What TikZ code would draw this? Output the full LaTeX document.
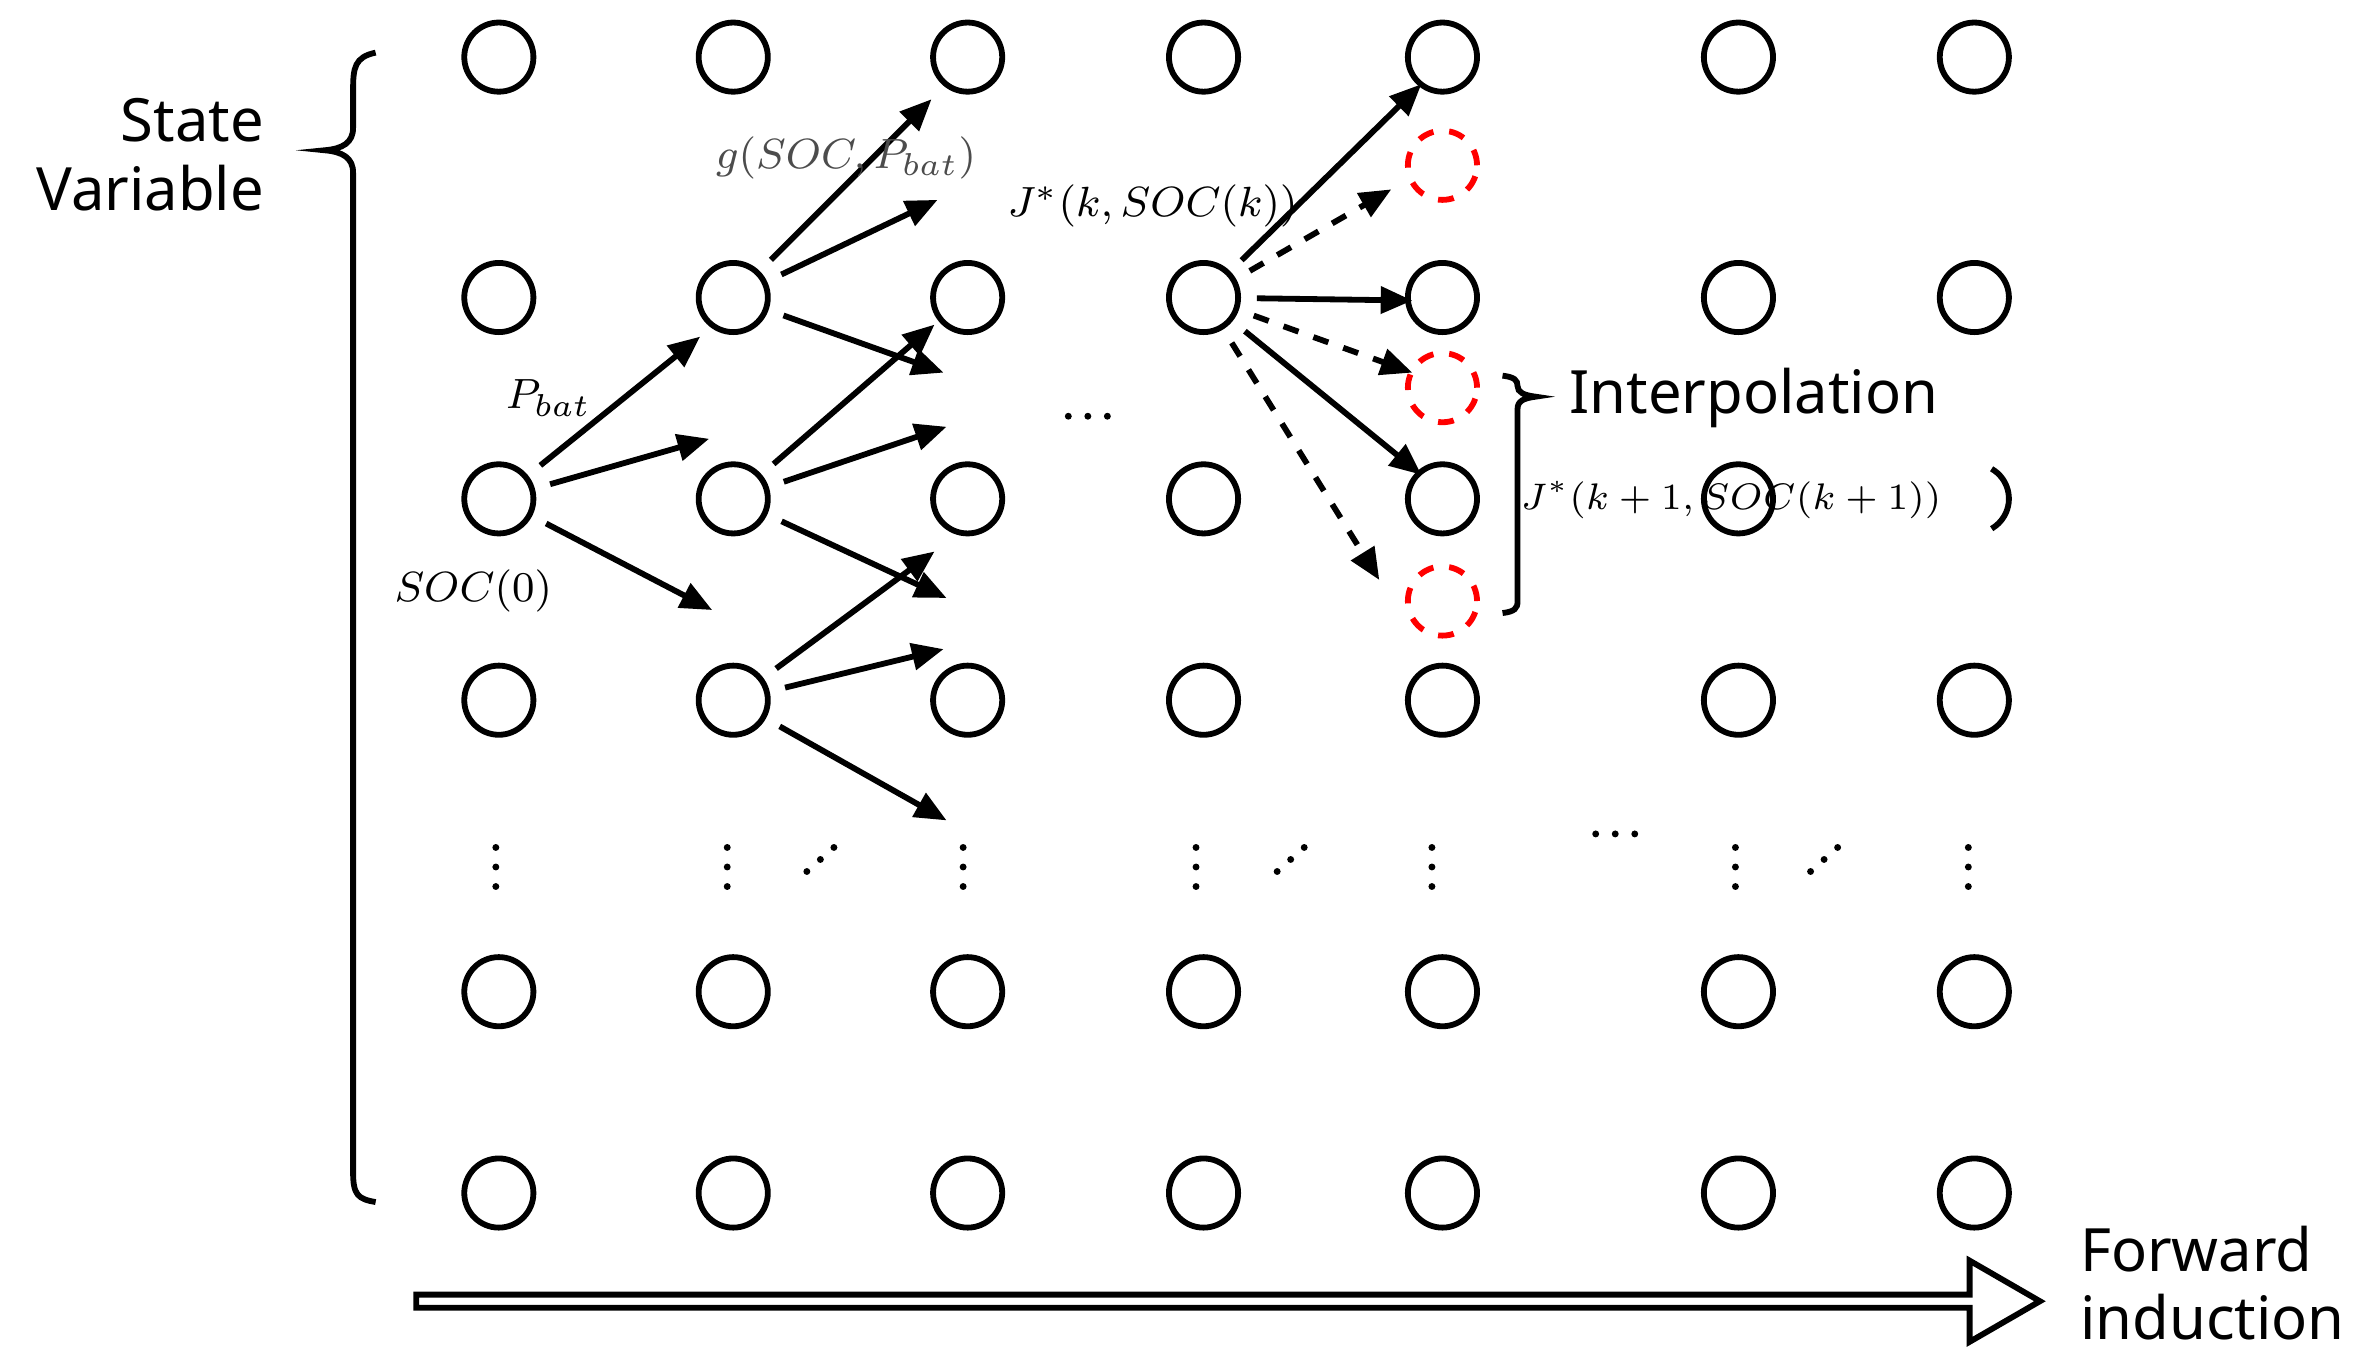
\documentclass[tikz,border=0pt]{standalone}
\usepackage{fontspec}
\setmainfont{Noto Sans}
\usetikzlibrary{arrows.meta,shapes.arrows}
\begin{document}
\begin{tikzpicture}[x=0.01cm,y=-0.01cm,
  st/.style={circle,draw,line width=1.1pt,minimum size=0.46cm,inner sep=0pt},
  rd/.style={circle,draw=red,dashed,line width=1.1pt,minimum size=0.46cm,inner sep=0pt},
  arr/.style={-{Triangle[length=6pt,width=5pt]},line width=1.1pt,shorten <=3pt},
  darr/.style={arr,dashed},
  lab/.style={font=\fontsize{8.3}{10}\selectfont},
  big/.style={font=\fontsize{11.3}{13}\selectfont}]
\useasboundingbox (0,0) rectangle (1568,905);
\foreach \x [count=\i] in {332,488,644,801,960,1157}
  \foreach \y [count=\j] in {38,198,332,466,660,794}
    \node[st] (c\i\j) at (\x,\y) {};
\foreach \y [count=\j] in {38,198,466,660,794}
  \node[st] (c7\j) at (1314,\y) {};
% red dashed
\node[rd] (r1) at (960,110) {};
\node[rd] (r2) at (960,258) {};
\node[rd] (r3) at (960,400) {};
% arrows
\foreach \t in {(466,224),(472,292),(474,406)} \draw[arr] (c13) -- \t;
\foreach \t in {(620,66),(624,133),(628,248)} \draw[arr] (c22) -- \t;
\foreach \t in {(622,216),(630,284),(630,398)} \draw[arr] (c23) -- \t;
\foreach \t in {(622,367),(628,432),(630,546)} \draw[arr] (c24) -- \t;
\draw[arr] (c42) -- (946,56);
\draw[darr] (c42) -- (926,126);
\draw[arr] (c42) -- (940,200);
\draw[darr] (c42) -- (940,248);
\draw[arr] (c42) -- (946,316);
\draw[darr] (c42) -- (918,386);
% labels
\node[lab] (lp) at (365,265) {$P_{bat}$};
\node[lab] (ls) at (315,393) {$SOC(0)$};
\node[lab,text=black!70] (lg) at (563,105) {$g(SOC,P_{bat})$};
\node[lab] (lj) at (767,137) {$J^{*}(k,SOC(k))$};
\node[font=\fontsize{7.2}{9}\selectfont] (lj2) at (1152,333) {$J^{*}(k+1,SOC(k+1))$};
\draw[line width=1.1pt] (1325.5,312) arc (-60:60:23);
% dots
\foreach \x in {711,724,737} \fill (\x,277) circle (2.3);
\foreach \x in {1062,1075,1088} \fill (\x,555) circle (2.3);
\foreach \x in {330,484,641,796,953,1155,1310}
  \foreach \y in {564,577,590} \fill (\x,\y) circle (2.3);
\foreach \x in {537,850,1205}
  \foreach \k in {0,1,2} \fill (\x+9*\k,580-8*\k) circle (2.3);
% braces
\draw[line width=1.1pt] (250,35) .. controls (236,38) and (235,45) .. (235,60) -- (235,85)
  .. controls (235,95) and (228,99) .. (216,100) .. controls (228,101) and (235,105) .. (235,115)
  -- (235,780) .. controls (235,795) and (238,798) .. (250,800);
\draw[line width=1.1pt] (1000,250) .. controls (1008,251) and (1010,253) .. (1010,257)
  .. controls (1010,261) and (1014,263) .. (1022,264) .. controls (1014,265) and (1010,267) .. (1010,272)
  -- (1010,400) .. controls (1010,405) and (1008,407) .. (1000,408);
\node[big,anchor=west] (li) at (1032,265) {Interpolation};
\node[big,anchor=east,align=right] (sv) at (188,103) {State\\Variable};
% forward induction
\node[single arrow,draw,line width=1.1pt,minimum height=10.8cm,minimum width=0.54cm,
  single arrow head extend=0.1cm,single arrow tip angle=60,inner sep=0pt,anchor=west] (fa) at (275,866) {};
\node[big,align=left,anchor=west] (fi) at (1372,854) {Forward\\induction};
\end{tikzpicture}
\end{document}
